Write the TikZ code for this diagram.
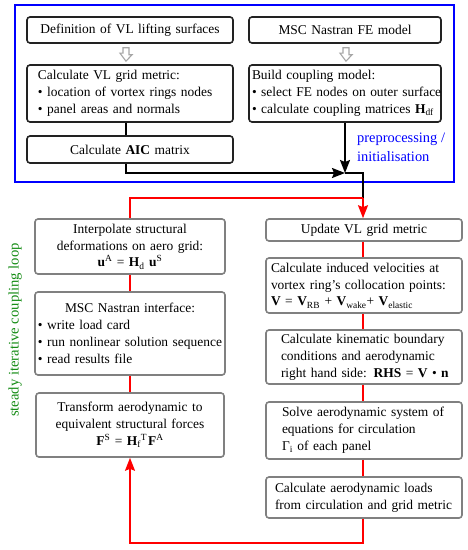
\documentclass[tikz,border=0pt]{standalone}
\usepackage{fontspec}
\setmainfont{Liberation Serif}
\usetikzlibrary{arrows.meta,calc}
\definecolor{topline}{HTML}{222222}
\definecolor{lowline}{HTML}{808080}
\definecolor{hollow}{HTML}{A6A6A6}
\definecolor{loopgreen}{RGB}{20,140,20}
\definecolor{redline}{RGB}{255,0,0}
\newcommand\oneline[1]{\mbox{#1}}
\tikzset{
  txt/.style={font=\fontsize{13.5}{17}\selectfont},
  bx/.style={txt, draw, rounded corners=3bp, line width=1.6bp, inner ysep=0pt},
  topbx/.style={bx, draw=topline},
  lowbx/.style={bx, draw=lowline},
  blk/.style={draw=black, line width=1.7bp},
  rd/.style={draw=redline, line width=1.7bp},
  tip/.style={-{Stealth[length=13bp,width=10bp,inset=2bp]}},
  hol/.style={draw=hollow, fill=white, line width=1.1bp, line join=miter}
}
\begin{document}
\begin{tikzpicture}[x=1bp,y=-1bp]
\useasboundingbox (0,0) rectangle (468,550);
\fill[white] (0,0) rectangle (468,550);
% preprocessing frame
\draw[blue, line width=1.5bp] (15,5) rectangle (454,182);
% top left
\node[topbx, minimum height=26bp, text width=198bp, inner xsep=4bp, align=center] (def) at (130,30) {\oneline{Definition of VL lifting surfaces}};
\node[topbx, minimum height=57bp, text width=184bp, inner xsep=11bp, align=left] (vlgrid) at (130,93.5) {\oneline{Calculate VL grid metric:}\\\oneline{\textbullet{} location of vortex rings nodes}\\\oneline{\textbullet{} panel areas and normals}};
\node[topbx, minimum height=27bp, text width=198bp, inner xsep=4bp, align=center] (aic) at (130,149.5) {\oneline{Calculate \textbf{AIC} matrix}};
% top right
\node[topbx, minimum height=26bp, text width=184bp, inner xsep=4bp, align=center] (msc) at (345,30) {\oneline{MSC Nastran FE model}};
\node[topbx, minimum height=57bp, text width=186bp, inner xsep=3bp, align=left] (build) at (345,93.5) {\oneline{Build coupling model:}\\\oneline{\textbullet{} select FE nodes on outer surface}\\\oneline{\textbullet{} calculate coupling matrices \textbf{H}\textsubscript{df}}};
% labels
\node[txt, font=\fontsize{14.5}{19}\selectfont, text=blue, anchor=west, align=left, inner sep=0pt] (pre) at (357,147.5) {preprocessing /\\initialisation};
\node[font=\fontsize{14.7}{17}\selectfont, text=loopgreen, rotate=90, inner sep=0pt] (loop) at (15,330) {steady iterative coupling loop};
% lower left
\node[lowbx, minimum height=55bp, text width=182bp, inner xsep=4bp, align=center] (interp) at (130,246.5) {\oneline{Interpolate structural}\\\oneline{deformations on aero grid:}\\\oneline{\textbf{u}\textsuperscript{A} = \textbf{H}\textsubscript{d} \textbf{u}\textsuperscript{S}}};
\node[lowbx, minimum height=83bp, text width=184bp, inner xsep=3bp, align=left] (nastran) at (130,333.5) {\makebox[184bp]{MSC Nastran interface:}\\\oneline{\textbullet{} write load card}\\\oneline{\textbullet{} run nonlinear solution sequence}\\\oneline{\textbullet{} read results file}};
\node[lowbx, minimum height=64bp, text width=180bp, inner xsep=4bp, align=center] (transform) at (130,425) {\oneline{Transform aerodynamic to}\\\oneline{equivalent structural forces}\\\oneline{\textbf{F}\textsuperscript{S} = \textbf{H}\textsubscript{f}\rlap{\textsuperscript{T}}\hspace{0.2em} \textbf{F}\textsuperscript{A}}};
% lower right
\node[lowbx, minimum height=22bp, text width=188bp, inner xsep=4bp, align=center] (update) at (364,230) {\oneline{Update VL grid metric}};
\node[lowbx, minimum height=55bp, text width=186bp, inner xsep=5bp, align=left] (induced) at (364,285.5) {\oneline{Calculate induced velocities at}\\\oneline{vortex ring's collocation points:}\\\oneline{\textbf{V} = \textbf{V}\textsubscript{RB} + \textbf{V}\textsubscript{wake}+ \textbf{V}\textsubscript{elastic}}};
\node[lowbx, minimum height=54bp, text width=166bp, inner xsep=15bp, align=left] (kin) at (364,357) {\oneline{Calculate kinematic boundary}\\\oneline{conditions and aerodynamic}\\\oneline{right hand side: \textbf{RHS} = \textbf{V} \textbullet{} \textbf{n}}};
\node[lowbx, minimum height=57bp, text width=164bp, inner xsep=16bp, align=left] (solve) at (364,430.5) {\oneline{Solve aerodynamic system of}\\\oneline{equations for circulation}\\\oneline{Γ\textsubscript{i} of each panel}};
\node[lowbx, minimum height=41bp, text width=178bp, inner xsep=9bp, align=left] (loads) at (364,497.5) {\oneline{Calculate aerodynamic loads}\\\oneline{from circulation and grid metric}};
% hollow arrows
\foreach \a/\b/\xx in {def/vlgrid/126, msc/build/346}{
  \draw[hol] ($(\a.south -| \xx,0)+(-3,4)$) -- ++(6,0) -- ++(0,7) -- ++(3,0) -- ($(\b.north -| \xx,0)+(0,-3)$) -- ++(-6,-8) -- ++(3,0) -- cycle;
}
% black connectors
\coordinate (J) at (345,173);
\coordinate (K) at (363,198);
\coordinate (L) at (363,543);
\draw[blk] ([xshift=-4bp]vlgrid.south) -- ([xshift=-4bp]aic.north);
\draw[blk, tip] ([xshift=-4bp]aic.south) |- (J);
\draw[blk, tip] (build.south) -- (J);
\draw[blk] (J) -| (K);
% red loop
\draw[rd, tip] (K) -- (K |- update.north);
\draw[rd] (K) -| (interp.north);
\draw[rd] (interp.south) -- (nastran.north);
\draw[rd] (nastran.south) -- (transform.north);
\draw[rd] (K |- update.south) -- (K |- induced.north);
\draw[rd] (K |- induced.south) -- (K |- kin.north);
\draw[rd] (K |- kin.south) -- (K |- solve.north);
\draw[rd] (K |- solve.south) -- (K |- loads.north);
\draw[rd, tip] (K |- loads.south) -- (L) -| (transform.south);
\end{tikzpicture}
\end{document}
